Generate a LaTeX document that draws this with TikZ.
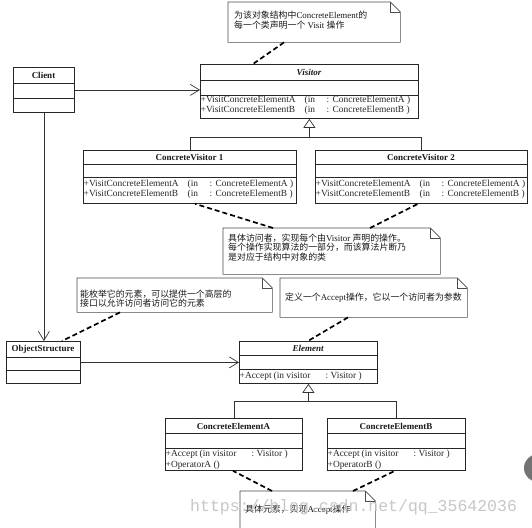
\documentclass[tikz,border=0pt]{standalone}
\usepackage{fontspec}
\setmainfont{Liberation Serif}
\newfontfamily\cjkfont{Noto Sans CJK SC}
\newfontfamily\wmfont{Liberation Mono}
\usetikzlibrary{arrows.meta,calc}
\newcommand\zh[1]{{\cjkfont #1}}
\tikzset{
  classbox/.style={draw=black!85, line width=0.8pt, inner sep=0pt, anchor=north west},
  divider/.style={draw=black!85, line width=0.6pt},
  ctitle/.style={font=\fontsize{9}{10}\selectfont\bfseries, inner sep=0pt, text=black!90},
  atitle/.style={font=\fontsize{9}{10}\selectfont\bfseries\itshape, inner sep=0pt, text=black!90},
  method/.style={font=\fontsize{9.4}{10}\selectfont, inner sep=0pt, anchor=west, text=black!85},
  notebdr/.style={draw=black!70, line width=0.6pt},
  notetext/.style={font=\fontsize{8.9}{9.8}\selectfont, inner sep=0pt, anchor=west, text=black!90},
  noteanchor/.style={inner sep=0pt, anchor=north west},
  assoc/.style={draw=black!80, line width=0.6pt, -{Straight Barb[length=9pt,width=11pt,line width=0.7pt]}},
  gener/.style={draw=black!80, line width=0.6pt},
  genarrow/.style={draw=black!80, line width=0.6pt, -{Triangle[open,length=9pt,width=12pt,line width=0.7pt]}},
  notelink/.style={draw=black, line width=1.7pt, dash pattern=on 5pt off 3pt}
}
\newcommand\notebox[5]{%
  \node[noteanchor, minimum width=#4pt, minimum height=#5pt] (#1) at (#2,#3) {};
  \draw[notebdr] (#1.north west) -- ([xshift=-10pt]#1.north east) -- ([yshift=-10pt]#1.north east) -- (#1.south east) -- (#1.south west) -- cycle;
  \draw[notebdr] ([xshift=-10pt]#1.north east) |- ([yshift=-10pt]#1.north east);
}
\newcommand\visitline[1]{\makebox[104pt][l]{+VisitConcreteElement#1}\makebox[22pt][l]{(in}\makebox[6pt][l]{:}ConcreteElement#1 )}
\newcommand\acceptline{\makebox[34pt][l]{+Accept}\makebox[52pt][l]{(in visitor}\makebox[5pt][l]{:}Visitor )}
\begin{document}
\begin{tikzpicture}[x=1pt,y=-1pt]
\fill[white] (0,0) rectangle (532,527);
\clip (0,0) rectangle (532,527);

% ---------- class boxes ----------
\node[classbox, minimum width=61pt, minimum height=45pt] (client) at (13,67) {};
\draw[divider] (client.west |- 0,83) -- (client.east |- 0,83);
\draw[divider] (client.west |- 0,98) -- (client.east |- 0,98);
\node[ctitle] (clientT) at (43.5,75) {Client};

\node[classbox, minimum width=218pt, minimum height=54pt] (visitor) at (200,64) {};
\draw[divider] (visitor.west |- 0,80) -- (visitor.east |- 0,80);
\draw[divider] (visitor.west |- 0,95) -- (visitor.east |- 0,95);
\node[atitle] (visitorT) at (309,72) {Visitor};
\node[method] (visitorM1) at (200.5,100.5) {\visitline{A}};
\node[method] (visitorM2) at (200.5,110) {\visitline{B}};

\node[classbox, minimum width=213pt, minimum height=53pt] (cv1) at (83,150) {};
\draw[divider] (cv1.west |- 0,164) -- (cv1.east |- 0,164);
\draw[divider] (cv1.west |- 0,177) -- (cv1.east |- 0,177);
\node[ctitle] (cv1T) at (189.5,157) {ConcreteVisitor 1};
\node[method] (cv1M1) at (83.5,184) {\visitline{A}};
\node[method] (cv1M2) at (83.5,194) {\visitline{B}};

\node[classbox, minimum width=212pt, minimum height=53pt] (cv2) at (315,150) {};
\draw[divider] (cv2.west |- 0,164) -- (cv2.east |- 0,164);
\draw[divider] (cv2.west |- 0,177) -- (cv2.east |- 0,177);
\node[ctitle] (cv2T) at (421,157) {ConcreteVisitor 2};
\node[method] (cv2M1) at (315.5,184) {\visitline{A}};
\node[method] (cv2M2) at (315.5,194) {\visitline{B}};

\node[classbox, minimum width=74pt, minimum height=42pt] (os) at (6,341) {};
\draw[divider] (os.west |- 0,357) -- (os.east |- 0,357);
\draw[divider] (os.west |- 0,370) -- (os.east |- 0,370);
\node[ctitle] (osT) at (43,349) {ObjectStructure};

\node[classbox, minimum width=138pt, minimum height=42pt] (element) at (239,341) {};
\draw[divider] (element.west |- 0,355) -- (element.east |- 0,355);
\draw[divider] (element.west |- 0,369) -- (element.east |- 0,369);
\node[atitle] (elementT) at (308,348) {Element};
\node[method] (elementM) at (239.5,376) {\acceptline};

\node[classbox, minimum width=137pt, minimum height=52pt] (cea) at (165,418) {};
\draw[divider] (cea.west |- 0,433) -- (cea.east |- 0,433);
\draw[divider] (cea.west |- 0,448) -- (cea.east |- 0,448);
\node[ctitle] (ceaT) at (233.5,426) {ConcreteElementA};
\node[method] (ceaM1) at (165.5,454) {\acceptline};
\node[method] (ceaM2) at (165.5,465) {+OperatorA ()};

\node[classbox, minimum width=138pt, minimum height=52pt] (ceb) at (327,418) {};
\draw[divider] (ceb.west |- 0,433) -- (ceb.east |- 0,433);
\draw[divider] (ceb.west |- 0,448) -- (ceb.east |- 0,448);
\node[ctitle] (cebT) at (396,426) {ConcreteElementB};
\node[method] (cebM1) at (327.5,454) {\acceptline};
\node[method] (cebM2) at (327.5,465) {+OperatorB ()};

% ---------- generalizations ----------
\coordinate (vbar) at (visitor.south |- 0,137);
\draw[gener] (cv1.north) -- (cv1.north |- vbar) -- (cv2.north |- vbar) -- (cv2.north);
\draw[genarrow] (vbar) -- (visitor.south);
\coordinate (ebar) at (element.south |- 0,401);
\draw[gener] (cea.north) -- (cea.north |- ebar) -- (ceb.north |- ebar) -- (ceb.north);
\draw[genarrow] (ebar) -- (element.south);

% ---------- associations ----------
\draw[assoc] (client.east) -- (client.east -| visitor.west);
\draw[assoc] (client.south) -- (client.south |- os.north);
\draw[assoc] (os.east) -- (os.east -| element.west);

% ---------- notes ----------
\notebox{note1}{228}{2}{172}{40}
\node[notetext] (note1a) at (234,15) {\zh{为该对象结构中}ConcreteElement\zh{的}};
\node[notetext] (note1b) at (234,25.5) {\zh{每一个类声明一个} Visit \zh{操作}};

\notebox{note2}{223}{228}{217}{46}
\node[notetext] (note2a) at (228,238) {\zh{具体访问者，实现每个由}Visitor \zh{声明的操作。}};
\node[notetext] (note2b) at (228,247.5) {\zh{每个操作实现算法的一部分，而该算法片断乃}};
\node[notetext] (note2c) at (228,257) {\zh{是对应于结构中对象的类}};

\notebox{note3}{77}{278}{195}{34}
\node[notetext] (note3a) at (80,294.5) {\zh{能枚举它的元素，可以提供一个高层的}};
\node[notetext] (note3b) at (80,303.5) {\zh{接口以允许访问者访问它的元素}};

\notebox{note4}{280}{278}{187}{39}
\node[notetext] (note4a) at (285,298) {\zh{定义一个}Accept\zh{操作，它以一个访问者为参数}};

\notebox{note5}{240}{491}{135}{50}
\node[notetext] (note5a) at (245,510) {\zh{具体元素，实现}Accept\zh{操作}};

% ---------- note links ----------
\draw[notelink] ($(note1.south west)+(56,0)$) -- ($(visitor.north west)+(53,0)$);
\draw[notelink] ($(note2.north west)+(50,0)$) -- ($(cv1.south west)+(112,0)$);
\draw[notelink] ($(note2.north west)+(147,0)$) -- ($(cv2.south west)+(103,0)$);
\draw[notelink] ($(note3.south west)+(43,0)$) -- ($(os.north west)+(56,0)$);
\draw[notelink] ($(note4.south west)+(68,0)$) -- ($(element.north west)+(69,0)$);
\draw[notelink] ($(note5.north west)+(32,0)$) -- ($(cea.south west)+(68,0)$);
\draw[notelink] ($(note5.north west)+(113,0)$) -- ($(ceb.south west)+(68,0)$);

% ---------- watermark ----------
\node[font=\wmfont\fontsize{16.5}{16.5}\selectfont, text=black!22, inner sep=0pt, anchor=west] (wm) at (190,507) {https://blog.csdn.net/qq\_35642036};
\fill[black!55] (538,468) circle (14pt);
\end{tikzpicture}
\end{document}
